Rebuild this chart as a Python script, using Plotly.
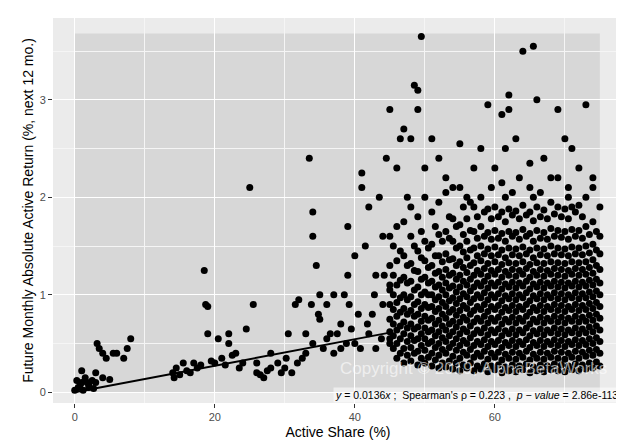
import plotly.graph_objects as go

low_pts = [(0,0.02),(0.5,0.05),(1,0.1),(1.5,0.15),(2,0.08),(2.5,0.12),(3,0.1),(3.5,0.45),(3.2,0.5),(4,0.4),
 (4.5,0.35),(5,0.13),(5.5,0.4),(7,0.35),(7.5,0.45),(8,0.55),(1,0.22),(2,0.05),(4,0.15),(0.8,0.08),(1.2,0.02),
 (3,0.2),(6,0.4),(0.3,0.12),(2.7,0.04),(1.8,0.1)]
mid_pts = [(14,0.2),(14.5,0.25),(15,0.18),(16,0.22),(17,0.3),(18,0.28),(18.5,1.25),(18.7,0.9),(19,0.88),(19,0.6),
 (20,0.3),(21,0.35),(22,0.5),(22.5,0.38),(23,0.4),(24,0.3),(24.5,0.65),(25,2.1),(25.5,0.9),(20.5,0.55),(16.5,0.2),
 (23.5,0.25),(22,0.6),(15.5,0.3),(14.2,0.15),(17.5,0.25),(19.5,0.32),(21.5,0.28),
 (26,0.2),(27,0.15),(28,0.25),(29,0.3),(30,0.25),(30.5,0.6),(31,0.2),(31.5,0.9),(32,0.95),(32.5,0.35),(33,0.4),
 (33.5,2.4),(34,1.85),(34,1.6),(34.5,1.3),(35,1.0),(35,0.75),(33,0.6),(34,0.5),(28,0.4),(26,0.3),(35.5,0.45),
 (36,0.55),(29.5,0.2),(27.5,0.22),(26.5,0.18),(30.2,0.35),(31.8,0.3),(33.8,0.9),(34.8,0.8),
 (36,0.9),(37,0.4),(37.5,0.6),(38,0.7),(38.5,1.0),(39,1.7),(39,1.2),(40,0.5),(40.5,0.8),(41,2.1),(41,2.25),
 (41.5,1.5),(42,0.6),(42,1.9),(43,1.2),(43,0.45),(43.5,2.0),(44,1.6),(44,0.9),(44.5,2.4),(45,2.9),(45,1.1),
 (45,0.55),(40,1.4),(38,0.45),(42.5,0.8),(36.5,0.6),(39.5,0.65),(37,1.0),(41.8,0.7),(43.8,0.55),(40.8,0.45),
 (39.2,0.9),(44.2,1.2),(42.8,1.0),(38.8,0.5)]
out_pts = [(49.5,3.65),(48.5,3.15),(49,3.1),(49,2.9),(47,2.7),(48,2.6),(55,2.55),(57,2.3),(59,2.95),(61,2.85),
 (62,3.05),(62,2.9),(64,3.5),(65.5,3.55),(66,3.0),(73,2.95),(69,2.9),(70,2.6),(71,2.5),(58,2.5),(53,2.2),
 (52,2.4),(50,2.0),(46,2.3),(47.5,2.0),(60,2.3),(67,2.4),(72,2.3),(74,2.2),(46.5,2.6),(51,2.6),(54,2.1),
 (63,2.6),(68,2.2),(56,2.0),(65,2.35),(61.5,2.5),(70.5,2.1)]
dense_x = [45,45.5,46,46.5,47,47.5,48,48.5,49,49.5,50,50.5,51,51.5,52,52.5,53,53.5,54,54.5,55,55.5,56,56.5,57,57.5,58,58.5,59,59.5,
 60,60.5,61,61.5,62,62.5,63,63.5,64,64.5,65,65.5,66,66.5,67,67.5,68,68.5,69,69.5,70,70.5,71,71.5,72,72.5,73,73.5,74,74.5,75]
dense_y = [
 [0.5,0.62,0.75,0.9,1.05,1.3,1.6],
 [0.45,0.58,0.7,0.85,1.0,1.2,1.5],
 [0.35,0.5,0.64,0.78,0.92,1.1,1.35,1.7],
 [0.4,0.55,0.68,0.82,0.97,1.15,1.45],
 [0.3,0.45,0.6,0.72,0.86,1.0,1.18,1.4,1.75],
 [0.38,0.52,0.66,0.8,0.95,1.12,1.3],
 [0.32,0.46,0.58,0.7,0.84,0.98,1.14,1.32,1.6,1.9],
 [0.4,0.53,0.65,0.78,0.9,1.05,1.25,1.5],
 [0.28,0.42,0.55,0.67,0.8,0.93,1.08,1.24,1.45,1.8],
 [0.35,0.48,0.6,0.73,0.86,1.0,1.16,1.38,1.65],
 [0.3,0.43,0.55,0.66,0.78,0.9,1.03,1.18,1.35,1.55,2.3],
 [0.36,0.5,0.62,0.74,0.87,1.0,1.12,1.28,1.48],
 [0.27,0.4,0.52,0.64,0.76,0.88,1.0,1.14,1.3,1.52,1.85],
 [0.33,0.46,0.58,0.7,0.83,0.95,1.08,1.22,1.4,1.7],
 [0.25,0.38,0.5,0.62,0.74,0.86,0.98,1.1,1.24,1.4,1.62,1.95],
 [0.3,0.44,0.56,0.68,0.8,0.92,1.05,1.18,1.34,1.55],
 [0.26,0.4,0.52,0.64,0.76,0.88,1.0,1.12,1.26,1.42,1.65,2.05],
 [0.32,0.46,0.58,0.7,0.82,0.94,1.07,1.2,1.36,1.58,1.8],
 [0.24,0.37,0.5,0.62,0.73,0.85,0.97,1.09,1.22,1.37,1.55,1.78],
 [0.3,0.43,0.55,0.67,0.79,0.91,1.03,1.16,1.3,1.48,1.7],
 [0.22,0.35,0.48,0.6,0.72,0.84,0.96,1.08,1.2,1.34,1.5,1.72,2.1],
 [0.28,0.41,0.53,0.65,0.77,0.89,1.01,1.14,1.28,1.44,1.62,1.9],
 [0.25,0.38,0.5,0.62,0.74,0.86,0.98,1.1,1.23,1.38,1.55,1.78],
 [0.3,0.44,0.56,0.68,0.8,0.92,1.04,1.16,1.3,1.46,1.66,1.95],
 [0.22,0.36,0.48,0.6,0.72,0.84,0.96,1.08,1.2,1.33,1.48,1.65,1.9],
 [0.27,0.4,0.52,0.64,0.76,0.88,1.0,1.12,1.25,1.4,1.58,1.8],
 [0.24,0.37,0.49,0.61,0.73,0.85,0.97,1.09,1.21,1.35,1.5,1.7,2.0],
 [0.29,0.42,0.54,0.66,0.78,0.9,1.02,1.14,1.27,1.42,1.6,1.85],
 [0.21,0.34,0.47,0.59,0.71,0.83,0.95,1.07,1.19,1.32,1.47,1.64,1.88],
 [0.27,0.4,0.52,0.64,0.76,0.88,1.0,1.12,1.25,1.4,1.57,1.78,2.1],
 [0.23,0.36,0.49,0.61,0.73,0.85,0.97,1.09,1.21,1.34,1.49,1.66,1.9],
 [0.28,0.41,0.53,0.65,0.77,0.89,1.01,1.13,1.26,1.41,1.58,1.8],
 [0.2,0.33,0.46,0.58,0.7,0.82,0.94,1.06,1.18,1.31,1.46,1.63,1.85,2.15],
 [0.26,0.39,0.51,0.63,0.75,0.87,0.99,1.11,1.24,1.38,1.55,1.75,2.0],
 [0.22,0.35,0.48,0.6,0.72,0.84,0.96,1.08,1.2,1.33,1.48,1.65,1.88],
 [0.28,0.41,0.53,0.65,0.77,0.89,1.01,1.13,1.26,1.41,1.6,1.82,2.05],
 [0.21,0.34,0.47,0.59,0.71,0.83,0.95,1.07,1.19,1.32,1.47,1.64,1.86],
 [0.27,0.4,0.52,0.64,0.76,0.88,1.0,1.12,1.25,1.4,1.57,1.78,2.2],
 [0.23,0.36,0.49,0.61,0.73,0.85,0.97,1.09,1.21,1.34,1.49,1.67,1.92],
 [0.29,0.42,0.54,0.66,0.78,0.9,1.02,1.14,1.27,1.42,1.6,1.82],
 [0.2,0.33,0.46,0.58,0.7,0.82,0.94,1.06,1.18,1.31,1.46,1.63,1.85,2.1],
 [0.26,0.39,0.51,0.63,0.75,0.87,0.99,1.11,1.24,1.38,1.55,1.76,2.0],
 [0.22,0.35,0.48,0.6,0.72,0.84,0.96,1.08,1.2,1.33,1.48,1.66,1.9],
 [0.28,0.41,0.53,0.65,0.77,0.89,1.01,1.13,1.26,1.41,1.58,1.8,2.05],
 [0.21,0.34,0.47,0.59,0.71,0.83,0.95,1.07,1.19,1.32,1.47,1.64,1.87],
 [0.27,0.4,0.52,0.64,0.76,0.88,1.0,1.12,1.25,1.4,1.57,1.78],
 [0.23,0.36,0.49,0.61,0.73,0.85,0.97,1.09,1.21,1.34,1.5,1.68,1.95],
 [0.29,0.42,0.54,0.66,0.78,0.9,1.02,1.14,1.27,1.42,1.6,1.83],
 [0.22,0.35,0.48,0.6,0.72,0.84,0.96,1.08,1.2,1.33,1.48,1.66,1.9,2.2],
 [0.28,0.41,0.53,0.65,0.77,0.89,1.01,1.13,1.26,1.41,1.59,1.8],
 [0.21,0.34,0.47,0.59,0.71,0.83,0.95,1.07,1.19,1.32,1.47,1.65,1.88],
 [0.27,0.4,0.52,0.64,0.76,0.88,1.0,1.12,1.25,1.4,1.57,1.78,2.0],
 [0.23,0.36,0.49,0.61,0.73,0.85,0.97,1.09,1.21,1.34,1.49,1.67,1.9],
 [0.29,0.42,0.54,0.66,0.78,0.9,1.02,1.14,1.27,1.42,1.6,1.85],
 [0.22,0.35,0.48,0.6,0.72,0.84,0.96,1.08,1.2,1.33,1.48,1.66,1.92],
 [0.28,0.41,0.53,0.65,0.77,0.89,1.01,1.13,1.26,1.41,1.58,1.8],
 [0.24,0.37,0.49,0.61,0.73,0.85,0.97,1.09,1.21,1.34,1.5,1.7,2.0],
 [0.3,0.43,0.55,0.67,0.79,0.91,1.03,1.15,1.28,1.43,1.62],
 [0.25,0.38,0.5,0.62,0.74,0.86,0.98,1.1,1.22,1.36,1.52,1.75,2.1],
 [0.31,0.44,0.56,0.68,0.8,0.92,1.04,1.16,1.3,1.46,1.65],
 [0.27,0.4,0.52,0.64,0.76,0.88,1.0,1.12,1.26,1.42,1.6,1.9],
]

xs, ys = [], []
for p in low_pts + mid_pts + out_pts:
    xs.append(p[0]); ys.append(p[1])
for x, col in zip(dense_x, dense_y):
    for y in col:
        xs.append(x); ys.append(y)

slope = 0.0136
line_x = [0, 45]

fig = go.Figure()
fig.add_shape(type="rect", x0=0, x1=75, y0=0, y1=3.68, fillcolor="rgba(190,190,190,0.45)", line_width=0, layer="below")
fig.add_trace(go.Scatter(x=xs, y=ys, mode="markers", marker=dict(color="black", size=7), hoverinfo="skip"))
fig.add_trace(go.Scatter(x=line_x, y=[slope*v for v in line_x], mode="lines", line=dict(color="black", width=2)))
fig.add_annotation(x=0.5, y=0.06, xref="paper", yref="paper", text="Copyright © 2019, AlphaBetaWorks",
                   showarrow=False, font=dict(size=17, color="rgba(255,255,255,0.6)", family="Liberation Sans"), xanchor="left")
fig.add_annotation(x=0.995, y=0.0, xref="paper", yref="paper", xanchor="right", yanchor="bottom",
                   text="<i>y</i> = 0.0136<i>x</i> ;  Spearman's ρ = 0.223 ,  <i>p</i> − <i>value</i> = 2.86e-113",
                   showarrow=False, bgcolor="rgba(255,255,255,0.55)", font=dict(size=10.5, color="black"))
fig.update_layout(width=624, height=446, margin=dict(l=45, r=9, t=10, b=51, autoexpand=False), showlegend=False,
                  paper_bgcolor="white", plot_bgcolor="#EBEBEB",
                  font=dict(family="Liberation Sans", color="black"))
fig.update_xaxes(range=[-3.1, 78.3], tickvals=[0,20,40,60], gridcolor="white", gridwidth=1.2, zeroline=False,
                 ticks="outside", ticklen=4, tickcolor="#333", tickfont=dict(size=11, color="#4D4D4D"),
                 title=dict(text="Active Share (%)", font=dict(size=14), standoff=4), automargin=False,
                 minor=dict(tickvals=[10,30,50,70], gridcolor="#F5F5F5", showgrid=True))
fig.update_yaxes(range=[-0.11, 3.84], tickvals=[0,1,2,3], gridcolor="white", gridwidth=1.2, zeroline=False,
                 ticks="outside", ticklen=4, tickcolor="#333", tickfont=dict(size=11, color="#4D4D4D"),
                 title=dict(text="Future Monthly Absolute Active Return (%, next 12 mo.)", font=dict(size=14), standoff=2),
                 automargin=False,
                 minor=dict(tickvals=[0.5,1.5,2.5,3.5], gridcolor="#F5F5F5", showgrid=True))
fig.write_html("out.html")
